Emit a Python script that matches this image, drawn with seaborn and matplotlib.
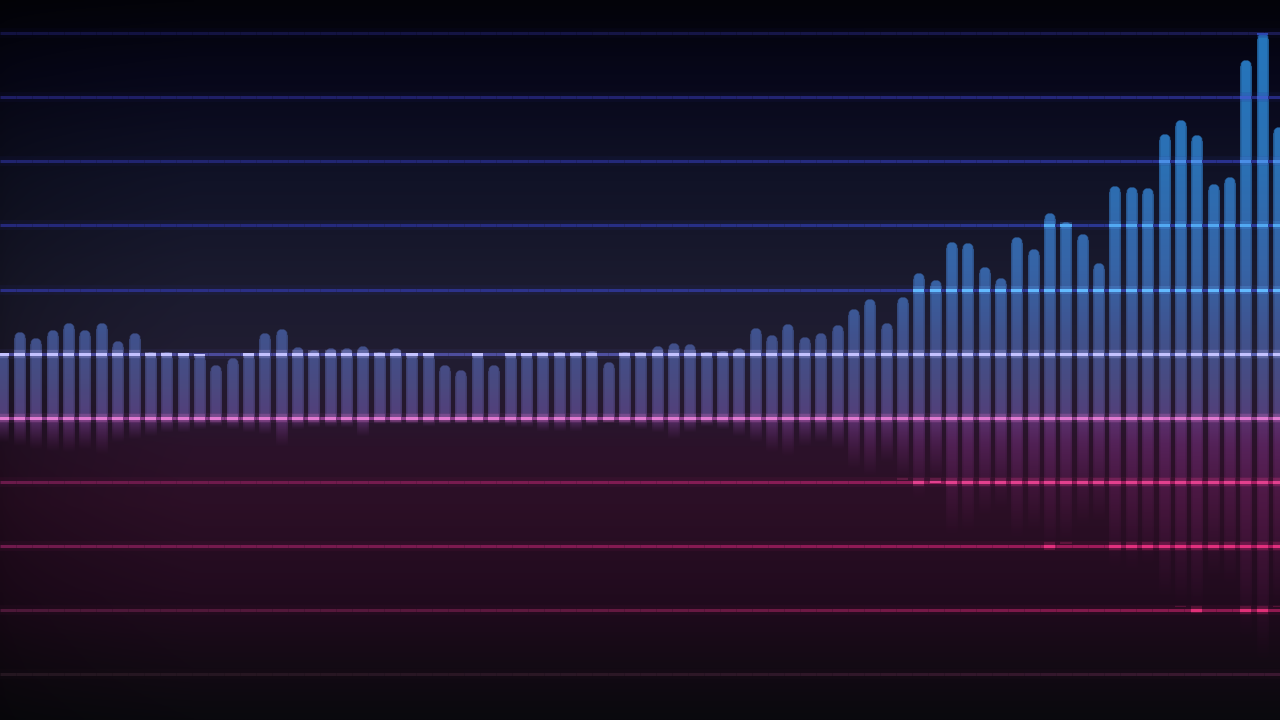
import numpy as np
import pandas as pd
import matplotlib
matplotlib.use("Agg")
import matplotlib.pyplot as plt
import seaborn as sns
from matplotlib.path import Path
from matplotlib.collections import LineCollection
from matplotlib.colors import LinearSegmentedColormap, to_rgb

# bar heights above the baseline (one per bar)
upper = [1.01, 1.34, 1.24, 1.37, 1.48, 1.37, 1.48, 1.20, 1.32, 1.02,
         1.02, 1.01, 0.99, 0.82, 0.93, 1.01, 1.32, 1.38, 1.10, 1.05,
         1.09, 1.09, 1.12, 1.02, 1.09, 1.01, 1.01, 0.82, 0.74, 1.01,
         0.82, 1.01, 1.01, 1.02, 1.02, 1.02, 1.04, 0.87, 1.02, 1.02,
         1.12, 1.16, 1.15, 1.02, 1.04, 1.09, 1.40, 1.29, 1.46, 1.26,
         1.32, 1.44, 1.69, 1.85, 1.48, 1.88, 2.26, 2.15, 2.74, 2.72,
         2.35, 2.18, 2.82, 2.63, 3.19, 3.05, 2.86, 2.41, 3.61, 3.60,
         3.58, 4.42, 4.64, 4.41, 3.64, 3.75, 5.58, 6.00, 4.53]

# mirrored part below the baseline
lower = [-0.40, -0.46, -0.51, -0.54, -0.55, -0.51, -0.58, -0.40, -0.35, -0.30,
         -0.24, -0.24, -0.19, -0.15, -0.19, -0.24, -0.27, -0.46, -0.19, -0.16,
         -0.16, -0.16, -0.30, -0.11, -0.11, -0.11, -0.15, -0.11, -0.11, -0.11,
         -0.11, -0.16, -0.16, -0.22, -0.22, -0.22, -0.15, -0.08, -0.15, -0.19,
         -0.24, -0.35, -0.24, -0.15, -0.19, -0.30, -0.40, -0.55, -0.61, -0.46,
         -0.40, -0.51, -0.82, -0.93, -0.71, -0.97, -1.28, -1.02, -1.86, -1.80,
         -1.55, -1.44, -1.91, -1.80, -2.07, -1.97, -1.71, -1.64, -2.38, -2.43,
         -2.33, -2.85, -2.95, -3.05, -2.53, -2.64, -3.47, -3.83, -2.95]

levels = [6, 5, 4, 3, 2, 1, 0, -1, -2, -3, -4]
line_left = ["#121240", "#1e1e64", "#20246e", "#24287a", "#2a2e84", "#4a4898",
             "#8a3a88", "#6a1a4a", "#701a4c", "#4c1838", "#241620"]
line_right = ["#1a1a50", "#262a80", "#2a3290", "#2c3a98", "#34409e", "#5a60b0",
              "#a04898", "#a81e62", "#a81a5c", "#901a50", "#3a1830"]
line_bright = ["#2c46b0", "#3a5cc8", "#4a8ee6", "#52a8f2", "#62baff", "#c4c2ff",
               "#e07ad0", "#e2408e", "#e2307e", "#e03078", "#7a2050"]

df = pd.DataFrame({"bar": range(len(upper)), "upper": upper, "lower": lower})

sns.set_theme(style="dark")
fig = plt.figure(figsize=(12.8, 7.2), dpi=100)
fig.patch.set_facecolor("#0b0a12")
ax = fig.add_axes([0, 0, 1, 1])

sns.barplot(data=df, x="bar", y="upper", color="#4a6ab0", width=0.68,
            errorbar=None, ax=ax)
n_up = len(ax.patches)
sns.barplot(data=df, x="bar", y="lower", color="#6a3a80", width=0.68,
            errorbar=None, ax=ax)
up_bars = ax.patches[:n_up]
low_bars = ax.patches[n_up:]

xlim = (-0.2, 78.09)
ylim = (-4.72, 6.52)

# background gradient
stops = [(0.00, "#030309"), (0.10, "#07071a"), (0.25, "#111327"), (0.40, "#1b1b2f"),
         (0.50, "#211d32"), (0.57, "#26182e"), (0.62, "#2b122a"), (0.70, "#2c0f26"),
         (0.83, "#210b1e"), (0.93, "#130a14"), (1.00, "#0a090e")]
bg_cmap = LinearSegmentedColormap.from_list("bg", stops)
H, W = 240, 320
col = bg_cmap(np.linspace(0, 1, H))[:, :3]
xs = np.linspace(0, 1, W)
vig = 0.72 + 0.28 * np.clip(xs / 0.15, 0, 1) ** 0.6
bg = col[:, None, :] * vig[None, :, None]
ax.imshow(bg, extent=[xlim[0], xlim[1], ylim[0], ylim[1]], origin="upper",
          aspect="auto", interpolation="bilinear", zorder=0)

up_cmap = LinearSegmentedColormap.from_list(
    "up", [(0.0, "#5c4688"), (0.08, "#50528e"), (0.2, "#465c9e"),
           (0.35, "#3c70ba"), (0.6, "#3080cc"), (1.0, "#2a8cdc")])
low_cmap = LinearSegmentedColormap.from_list(
    "low", [(0.0, "#6a3a82"), (0.1, "#6a2c72"), (0.3, "#702264"), (1.0, "#6e1a56")])

cols = 16
xs_bar = np.linspace(-1, 1, cols)
edge = np.where(np.abs(xs_bar) > 0.85, 0.75, 1.0)

for p in up_bars:
    p.set_alpha(0)
    x0, w = p.get_x(), p.get_width()
    lo, hi = sorted([p.get_y(), p.get_y() + p.get_height()])
    rows = max(int((hi - lo) * 150), 10)
    vs = np.linspace(lo, hi, rows)
    img = np.repeat(up_cmap(np.clip(vs / 6.5, 0, 1))[:, None, :], cols, axis=1)
    r = 0.09
    d = np.clip((vs - (hi - r)) / r, 0, 1)
    half = np.sqrt(np.clip(1 - d ** 2, 0, 1))
    mask = (np.abs(xs_bar)[None, :] <= half[:, None]).astype(float)
    img[..., 3] = 0.86 * mask * edge[None, :]
    ax.imshow(img, extent=[x0, x0 + w, lo, hi], origin="lower", aspect="auto",
              interpolation="bilinear", zorder=2)

for p in low_bars:
    p.set_alpha(0)
    x0, w = p.get_x(), p.get_width()
    lo, hi = sorted([p.get_y(), p.get_y() + p.get_height()])
    rows = max(int((hi - lo) * 150), 10)
    vs = np.linspace(lo, hi, rows)
    t = (vs - hi) / (lo - hi)
    img = np.repeat(low_cmap(np.clip(-vs / 4.0, 0, 1))[:, None, :], cols, axis=1)
    img[..., 3] = (0.8 * (1 - t) ** 1.1)[:, None] * edge[None, :]
    ax.imshow(img, extent=[x0, x0 + w, lo, hi], origin="lower", aspect="auto",
              interpolation="bilinear", zorder=2)

# clip path made of every bar, used to brighten the lines where they cross bars
paths = [p.get_path().transformed(p.get_patch_transform()) for p in up_bars + low_bars]
bar_path = Path.make_compound_path(*paths)

xg = np.linspace(xlim[0], xlim[1], 81)
frac = np.linspace(0, 1, 80) ** 1.5
for lvl, cl, cr, cb in zip(levels, line_left, line_right, line_bright):
    segs = [[(xg[k], lvl), (xg[k + 1], lvl)] for k in range(80)]
    c0, c1 = np.array(to_rgb(cl)), np.array(to_rgb(cr))
    seg_cols = c0[None, :] * (1 - frac[:, None]) + c1[None, :] * frac[:, None]
    ax.add_collection(LineCollection(segs, colors=seg_cols, linewidths=7,
                                     alpha=0.12, zorder=3, capstyle="butt"))
    ax.add_collection(LineCollection(segs, colors=seg_cols, linewidths=2.2,
                                     zorder=4, capstyle="butt"))
    glow = ax.axhline(lvl, color=cb, lw=6, alpha=0.22, zorder=5)
    glow.set_clip_path(bar_path, ax.transData)
    bright = ax.axhline(lvl, color=cb, lw=2.2, zorder=6)
    bright.set_clip_path(bar_path, ax.transData)

ax.set_xlim(*xlim)
ax.set_ylim(*ylim)
ax.set_axis_off()

fig.savefig("out.png", dpi=100, facecolor=fig.get_facecolor())
